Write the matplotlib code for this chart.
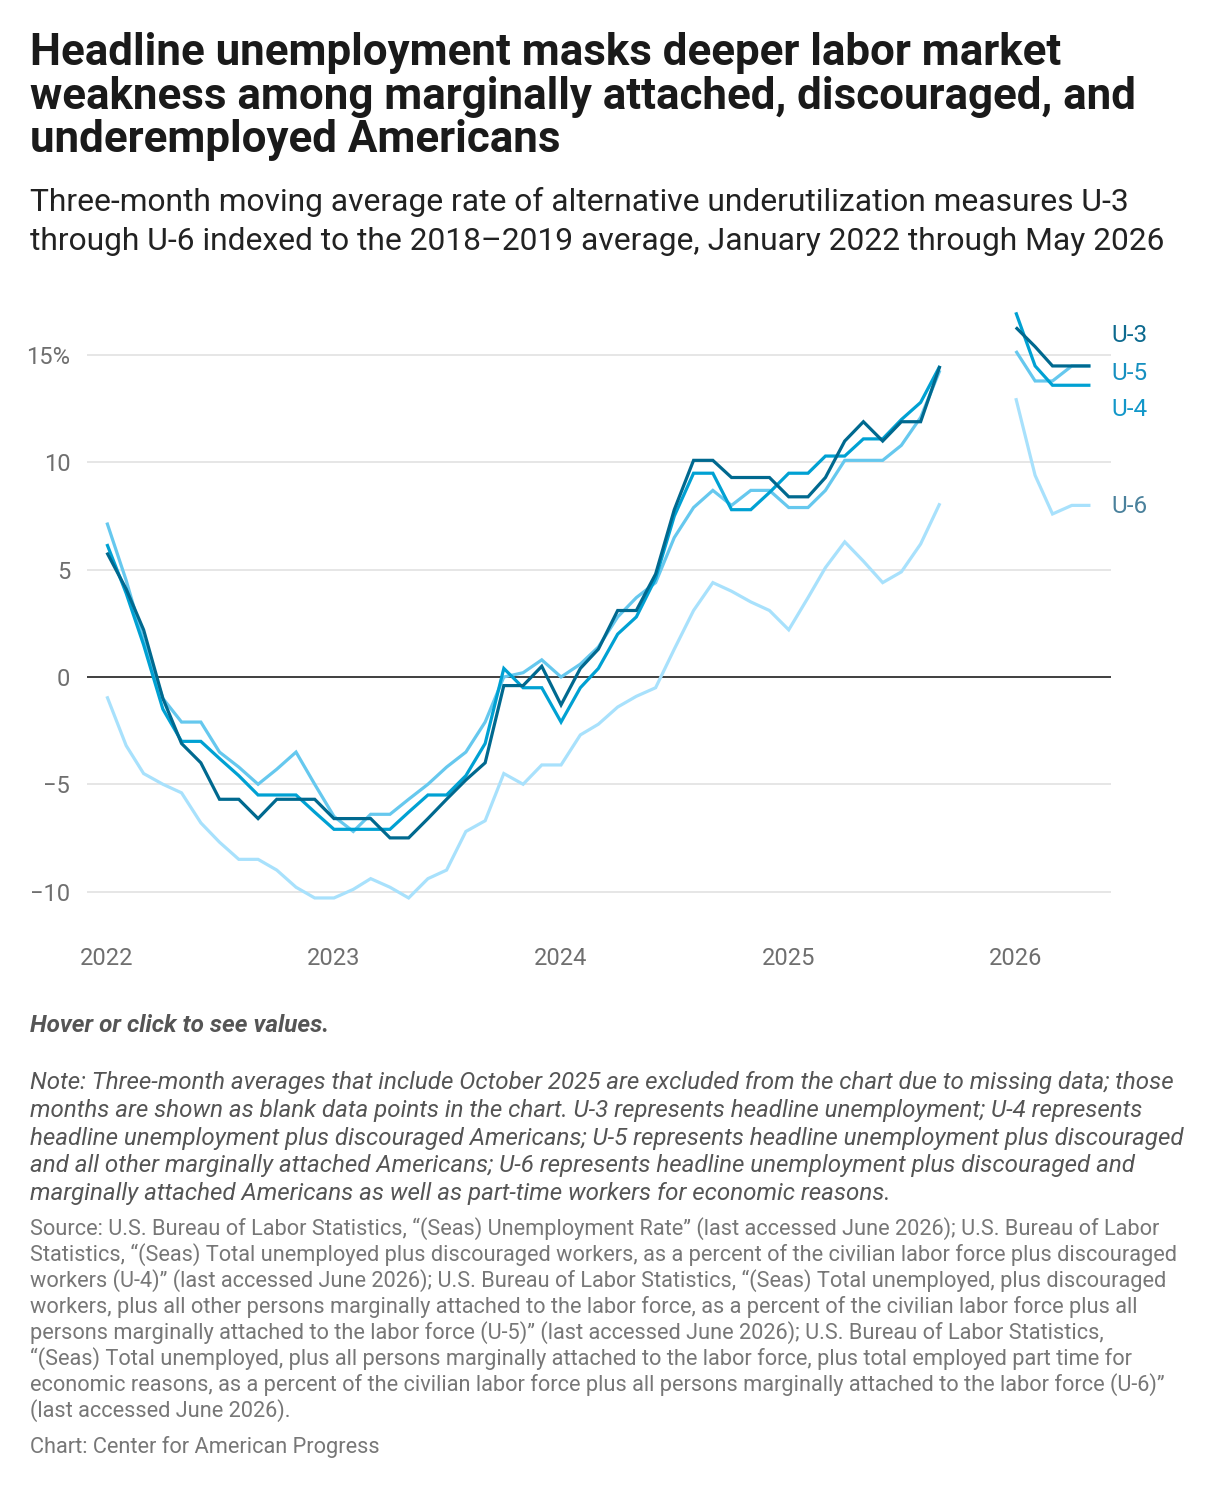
import numpy as np
import pandas as pd
import matplotlib
matplotlib.use("Agg")
import matplotlib.pyplot as plt
import matplotlib.dates as mdates

plt.rcParams['font.family'] = ['Roboto', 'DejaVu Sans']

# 月次データ (2022年1月〜2026年5月)、2025年10〜12月は欠損
months = pd.date_range("2022-01-01", "2026-05-01", freq="MS")
nan = np.nan
u3 = [5.8, 4.1, 2.2, -1.0, -3.1, -4.0, -5.7, -5.7, -6.6, -5.7, -5.7, -5.7,
      -6.6, -6.6, -6.6, -7.5, -7.5, -6.6, -5.7, -4.8, -4.0, -0.4, -0.4, 0.5,
      -1.3, 0.4, 1.3, 3.1, 3.1, 4.8, 7.8, 10.1, 10.1, 9.3, 9.3, 9.3,
      8.4, 8.4, 9.3, 11.0, 11.9, 11.0, 11.9, 11.9, 14.5, nan, nan, nan,
      16.3, 15.4, 14.5, 14.5, 14.5]
u4 = [6.2, 3.9, 1.5, -1.5, -3.0, -3.0, -3.8, -4.6, -5.5, -5.5, -5.5, -6.3,
      -7.1, -7.1, -7.1, -7.1, -6.3, -5.5, -5.5, -4.6, -3.1, 0.4, -0.5, -0.5,
      -2.1, -0.5, 0.4, 2.0, 2.8, 4.6, 7.5, 9.5, 9.5, 7.8, 7.8, 8.6,
      9.5, 9.5, 10.3, 10.3, 11.1, 11.1, 12.0, 12.8, 14.5, nan, nan, nan,
      17.0, 14.5, 13.6, 13.6, 13.6]
u5 = [7.2, 4.5, 1.7, -1.0, -2.1, -2.1, -3.5, -4.2, -5.0, -4.3, -3.5, -5.0,
      -6.5, -7.2, -6.4, -6.4, -5.7, -5.0, -4.2, -3.5, -2.1, 0.0, 0.2, 0.8,
      0.0, 0.6, 1.4, 2.8, 3.7, 4.4, 6.5, 7.9, 8.7, 8.0, 8.7, 8.7,
      7.9, 7.9, 8.7, 10.1, 10.1, 10.1, 10.8, 12.1, 14.3, nan, nan, nan,
      15.2, 13.8, 13.8, 14.5, 14.5]
u6 = [-0.9, -3.2, -4.5, -5.0, -5.4, -6.8, -7.7, -8.5, -8.5, -9.0, -9.8, -10.3,
      -10.3, -9.9, -9.4, -9.8, -10.3, -9.4, -9.0, -7.2, -6.7, -4.5, -5.0, -4.1,
      -4.1, -2.7, -2.2, -1.4, -0.9, -0.5, 1.3, 3.1, 4.4, 4.0, 3.5, 3.1,
      2.2, 3.7, 5.1, 6.3, 5.4, 4.4, 4.9, 6.2, 8.1, nan, nan, nan,
      13.0, 9.4, 7.6, 8.0, 8.0]

series_names = ["U-6", "U-5", "U-4", "U-3"]
series_values = [u6, u5, u4, u3]
line_colors = ["#a8e1fc", "#66c8ee", "#00a1d3", "#00698f"]
label_colors = ["#4a819c", "#1690c0", "#1297c9", "#0d6a8f"]
label_y = [7.97, 14.17, 12.45, 15.9]

y_ticks = [-10, -5, 0, 5, 10, 15]
y_tick_labels = ["\u221210", "\u22125", "0", "5", "10", "15%"]
year_ticks = pd.to_datetime(["2022-01-01", "2023-01-01", "2024-01-01",
                             "2025-01-01", "2026-01-01"])

W, H = 1220, 1492
fig = plt.figure(figsize=(W / 100, H / 100), dpi=100, facecolor="white")


def fy(py):
    return 1 - py / H


ax = fig.add_axes([87 / W, fy(923.7), (1111 - 87) / W, (923.7 - 301.6) / H])

for name, vals, c in zip(series_names, series_values, line_colors):
    ax.plot(months, vals, color=c, lw=2.3, solid_joinstyle="miter",
            solid_capstyle="butt", zorder=3)

for name, ly, c in zip(series_names, label_y, label_colors):
    ax.text(1.0, ly, name, transform=ax.get_yaxis_transform(),
            ha="left", va="center", fontsize=17.5, color=c)

ax.set_ylim(-11.5, 17.5)
ax.set_xlim(pd.Timestamp("2021-11-30"), pd.Timestamp("2026-06-03"))
ax.set_yticks(y_ticks)
ax.set_yticklabels(y_tick_labels)
ax.set_xticks(year_ticks)
ax.xaxis.set_major_formatter(mdates.DateFormatter("%Y"))
ax.grid(axis="y", color="#e1e1e1", lw=1.2, zorder=0)
ax.axhline(0, color="#333333", lw=1.3, zorder=2)
for s in ax.spines.values():
    s.set_visible(False)
ax.tick_params(axis="both", length=0, labelsize=17, labelcolor="#6f6f6f")
ax.tick_params(axis="y", pad=12)
ax.tick_params(axis="x", pad=17)

# タイトル・サブタイトル
title_lines = ["Headline unemployment masks deeper labor market",
               "weakness among marginally attached, discouraged, and",
               "underemployed Americans"]
for i, t in enumerate(title_lines):
    fig.text(30 / W, fy(65 + 43.5 * i), t, fontsize=31.6, fontweight="bold",
             color="#1a1a1a", va="baseline")

sub_lines = ["Three-month moving average rate of alternative underutilization measures U-3",
             "through U-6 indexed to the 2018\u20132019 average, January 2022 through May 2026"]
for i, t in enumerate(sub_lines):
    fig.text(30 / W, fy(211 + 38.5 * i), t, fontsize=22.9, color="#222222",
             va="baseline")

fig.text(30 / W, fy(1032), "Hover or click to see values.", fontsize=17.5,
         fontweight="bold", fontstyle="italic", color="#555555", va="baseline")

note_lines = ["Note: Three-month averages that include October 2025 are excluded from the chart due to missing data; those",
              "months are shown as blank data points in the chart. U-3 represents headline unemployment; U-4 represents",
              "headline unemployment plus discouraged Americans; U-5 represents headline unemployment plus discouraged",
              "and all other marginally attached Americans; U-6 represents headline unemployment plus discouraged and",
              "marginally attached Americans as well as part-time workers for economic reasons."]
for i, t in enumerate(note_lines):
    fig.text(30 / W, fy(1089 + 27.8 * i), t, fontsize=17.4, fontstyle="italic",
             color="#555555", va="baseline")

source_lines = ["Source: U.S. Bureau of Labor Statistics, \u201c(Seas) Unemployment Rate\u201d (last accessed June 2026); U.S. Bureau of Labor",
                "Statistics, \u201c(Seas) Total unemployed plus discouraged workers, as a percent of the civilian labor force plus discouraged",
                "workers (U-4)\u201d (last accessed June 2026); U.S. Bureau of Labor Statistics, \u201c(Seas) Total unemployed, plus discouraged",
                "workers, plus all other persons marginally attached to the labor force, as a percent of the civilian labor force plus all",
                "persons marginally attached to the labor force (U-5)\u201d (last accessed June 2026); U.S. Bureau of Labor Statistics,",
                "\u201c(Seas) Total unemployed, plus all persons marginally attached to the labor force, plus total employed part time for",
                "economic reasons, as a percent of the civilian labor force plus all persons marginally attached to the labor force (U-6)\u201d",
                "(last accessed June 2026)."]
for i, t in enumerate(source_lines):
    fig.text(30 / W, fy(1235 + 26 * i), t, fontsize=15.7, color="#777777",
             va="baseline")

fig.text(30 / W, fy(1453), "Chart: Center for American Progress", fontsize=15.7,
         color="#777777", va="baseline")

fig.savefig("out.png", dpi=100, facecolor="white")
